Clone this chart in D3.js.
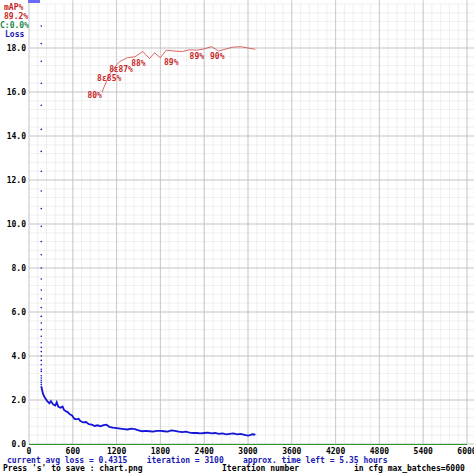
<!DOCTYPE html><html><head><meta charset="utf-8">
<script src="https://cdn.jsdelivr.net/npm/d3@7"></script>
<style>body{margin:0;background:#fff}text{font-family:"DejaVu Sans Mono",monospace;font-weight:bold}</style></head><body>
<svg id="c" width="474" height="474"></svg>
<script>
const xTicks=[0,600,1200,1800,2400,3000,3600,4200,4800,5400,6000];
const yTicks=[0,2,4,6,8,10,12,14,16,18];
const dotIters=[168,168,168,168,168,168,168,168,168,168,168,168,168,168,168,168,168,168,168,168,168,168,168,168,168,168,168,168,168,168,168,168,168,168,168,168];
const dotLoss=[19.0,18.2,17.4,16.4,15.4,14.3,13.3,12.4,11.5,10.7,9.9,9.2,8.6,8.0,7.5,7.0,6.6,6.2,5.8,5.5,5.2,4.9,4.6,4.4,4.2,4.0,3.8,3.6,3.4,3.3,3.1,3.0,2.9,2.8,2.7,2.6];
const lossIters=[170,190,210,230,250,280,300,330,360,380,400,430,460,480,500,530,560,590,620,650,680,700,740,780,820,860,900,940,980,1020,1060,1100,1150,1200,1250,1300,1350,1400,1450,1500,1550,1600,1650,1700,1750,1800,1850,1900,1950,2000,2050,2100,2150,2200,2250,2300,2350,2400,2450,2500,2550,2600,2650,2700,2750,2800,2850,2900,2950,3000,3030,3060,3080,3100];
const lossVals=[2.6,2.3,2.15,2.05,1.95,1.85,1.95,1.8,1.75,1.9,1.7,1.65,1.7,1.55,1.5,1.45,1.35,1.3,1.15,1.12,1.15,1.05,0.98,1.0,0.9,0.88,0.82,0.85,0.8,0.86,0.88,0.78,0.74,0.72,0.7,0.68,0.66,0.7,0.68,0.62,0.58,0.6,0.58,0.56,0.6,0.6,0.58,0.56,0.62,0.6,0.56,0.54,0.56,0.52,0.5,0.5,0.48,0.5,0.52,0.48,0.5,0.46,0.48,0.44,0.46,0.48,0.44,0.46,0.42,0.38,0.4,0.45,0.42,0.45];
const mapIters=[1000,1100,1150,1200,1250,1350,1450,1560,1650,1720,1800,1880,2000,2100,2200,2300,2400,2500,2600,2700,2800,2900,3000,3100];
const mapVals=[80,84,85,86.2,87,87.8,88,89.2,87.6,88.9,87.8,89.5,89.3,89.2,89.6,89.5,89.8,90.3,89.3,89.8,90.2,90.3,90.0,89.7];
// label anchor: [iteration, mAP value, text]
const mapLabels=[[800,78.6,"80%"],[930,82.6,"8"],[1000,82.6,"\u03b585%"],[1100,84.6,"8"],[1160,84.6,"\u03b587%"],[1400,85.8,"88%"],[1850,86.2,"89%"],[2200,87.4,"89%"],[2480,87.6,"90%"]];
const svg=d3.select("#c");
const L=29,R=467,T=4,B=444;
const x=d3.scaleLinear().domain([0,6000]).range([L,R]);
const y=d3.scaleLinear().domain([0,20]).range([B,T]);
const g=svg.append("g");
d3.range(0,6001,120).forEach(v=>g.append("line").attr("x1",x(v)).attr("x2",x(v)).attr("y1",T).attr("y2",B).attr("stroke","#e4e4e4").attr("stroke-width",0.6));
d3.range(0,20.01,0.4).forEach(v=>g.append("line").attr("x1",L).attr("x2",474).attr("y1",y(v)).attr("y2",y(v)).attr("stroke","#e4e4e4").attr("stroke-width",0.6));
xTicks.forEach(v=>g.append("line").attr("x1",x(v)).attr("x2",x(v)).attr("y1",0).attr("y2",B).attr("stroke","#c0c0c0").attr("stroke-width",0.8));
yTicks.forEach(v=>g.append("line").attr("x1",L).attr("x2",474).attr("y1",y(v)).attr("y2",y(v)).attr("stroke","#c0c0c0").attr("stroke-width",0.8));
svg.append("line").attr("x1",L).attr("x2",R).attr("y1",B+0.5).attr("y2",B+0.5).attr("stroke","#2a9a2a").attr("stroke-width",1);
svg.selectAll(".yt").data(yTicks).join("text").attr("x",L-3).attr("y",d=>y(d)+3).attr("text-anchor","end").attr("font-size",8).text(d=>d.toFixed(1));
svg.selectAll(".xt").data(xTicks).join("text").attr("x",d=>x(d)).attr("y",454).attr("text-anchor","middle").attr("font-size",8).text(d=>d);
svg.selectAll(".d").data(dotLoss).join("circle").attr("cx",(d,i)=>x(dotIters[i])).attr("cy",d=>y(d)).attr("r",0.8).attr("fill","#1010d0");
const lp=lossIters.map((v,i)=>[v,lossVals[i]]);
svg.append("path").attr("d",d3.line().x(d=>x(d[0])).y(d=>y(d[1]))(lp)).attr("fill","none").attr("stroke","#1515d8").attr("stroke-width",1.8);
const mp=mapIters.map((v,i)=>[v,mapVals[i]/5]);
svg.append("path").attr("d",d3.line().x(d=>x(d[0])).y(d=>y(d[1]))(mp)).attr("fill","none").attr("stroke","#d04040").attr("stroke-width",0.8);
svg.selectAll(".ml").data(mapLabels).join("text").attr("x",d=>x(d[0])).attr("y",d=>y(d[1]/5)).attr("font-size",8).attr("fill","#c82828").text(d=>d[2]);
svg.append("rect").attr("x",28).attr("y",0).attr("width",12).attr("height",3).attr("fill","#6a6aff");
svg.append("text").attr("x",4).attr("y",10).attr("font-size",8).attr("fill","#c82828").text("mAP%");
svg.append("text").attr("x",4).attr("y",19).attr("font-size",8).attr("fill","#c82828").text("89.2%");
svg.append("text").attr("x",0).attr("y",28).attr("font-size",8).attr("fill","#1a8a4a").text("C:0.0%");
svg.append("text").attr("x",5).attr("y",37).attr("font-size",8).attr("fill","#1a1ab0").text("Loss");
svg.append("text").attr("x",7).attr("y",463).attr("font-size",8).attr("fill","#1a1ab0").attr("xml:space","preserve").text("current avg loss = 0.4315    iteration = 3100    approx. time left = 5.35 hours");
svg.append("text").attr("x",3).attr("y",471).attr("font-size",8).text("Press 's' to save : chart.png");
svg.append("text").attr("x",222).attr("y",471).attr("font-size",8).text("Iteration number");
svg.append("text").attr("x",354).attr("y",471).attr("font-size",8).text("in cfg max_batches=6000");
</script></body></html>
